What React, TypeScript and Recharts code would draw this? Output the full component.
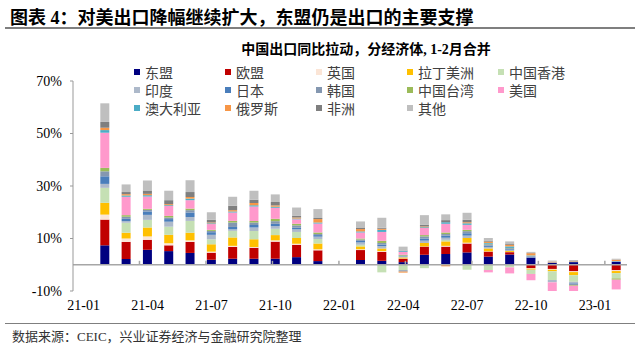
import React from "react";
import { BarChart, Bar, XAxis, YAxis, ReferenceLine, Legend } from "recharts";

const FONT = '"Liberation Serif", "Noto Sans CJK SC", serif';

// monthly slots; Jan-Feb are reported together in the Feb slot, Jan stays empty
const months = [
  "21-01", "21-02", "21-03", "21-04", "21-05", "21-06", "21-07", "21-08", "21-09",
  "21-10", "21-11", "21-12", "22-01", "22-02", "22-03", "22-04", "22-05", "22-06",
  "22-07", "22-08", "22-09", "22-10", "22-11", "22-12", "23-01", "23-02",
];

const seriesNames = [
  "东盟", "欧盟", "英国", "拉丁美洲", "中国香港",
  "印度", "日本", "韩国", "中国台湾", "美国",
  "澳大利亚", "俄罗斯", "非洲", "其他",
];

const seriesColors = [
  "#000080", "#C00000", "#FBE5D6", "#FFC000", "#C5E0B4",
  "#ADB9CA", "#4A7EBB", "#8497B0", "#9BBB59", "#FF99CC",
  "#4BACC6", "#F79646", "#7F7F7F", "#BFBFBF",
];

// contribution to export growth, percentage points
const asean = [null, 7.4, 2.2, 5.7, 5.2, 4.5, 1.9, 2.3, 2.3, 2.3, 2.9, 1.4, null, 1.8, 1.5, 1.0, 3.8, 4.1, 4.7, 3.1, 3.9, 2.7, 0.7, 1.0, null, 1.1];
const eu = [null, 9.8, 6.5, 3.8, 2.2, 4.2, 2.7, 4.5, 4.2, 6.5, 4.7, 4.1, null, 3.8, 3.4, 1.3, 3.1, 2.8, 3.4, 1.9, 0.9, -1.3, -1.6, -2.5, null, -2.1];
const uk = [null, 1.9, 1.3, 1.3, 0.8, 0.6, 0.4, 0.4, 0.3, 0.5, 0.4, 0.4, null, 0.3, 0.3, 0.1, 0.1, 0.3, 0.3, 0.1, 0.1, -0.2, -0.3, -0.3, null, -0.3];
const latam = [null, 4.5, 2.2, 3.4, 3.2, 2.9, 2.8, 3.2, 2.9, 2.0, 2.2, 2.2, null, 1.1, 1.0, 0.4, 1.3, 1.7, 1.8, 1.1, 0.4, -0.4, -0.6, -1.2, null, -0.8];
const hongKong = [null, 5.7, 3.8, 2.9, 3.1, 4.5, 1.9, 2.5, 3.2, 2.4, 2.3, 1.7, null, 0.6, -2.9, -2.1, -1.3, 0.6, -1.9, -2.0, -1.0, -1.6, -3.3, -2.5, null, -2.0];
const india = [null, 1.5, 0.6, 1.9, 1.9, 1.5, 1.7, 0.6, 1.3, 1.0, 1.0, 0.9, null, 0.9, 0.9, 0.4, 0.9, 0.8, 0.9, 0.6, 0.2, 0.1, -0.9, -0.6, null, 0];
const japan = [null, 2.9, 0.9, 1.3, 1.0, 1.7, 1.0, 0.9, 0.9, 0.9, 0.6, 0.6, null, 0.6, 0.6, 0.3, 0.8, 0.8, 0.9, 0.5, 0.4, 0.3, 0.1, -0.2, null, 0.1];
const korea = [null, 1.9, 0.8, 0.6, 0.6, 0.9, 0.5, 1.7, 1.0, 1.0, 0.9, 0.4, null, 0.5, 0.6, -0.5, 0.8, 0.6, 0.8, 0.5, 0.4, 0.3, 0.1, -0.4, null, 0.1];
const taiwan = [null, 1.3, 0.6, 0.4, 0.6, 0.6, 0.4, 0.6, 0.6, 0.9, 0.6, 0.6, null, 0.4, 0.8, 0.3, 0.5, 0.6, 0.5, 0.2, 0.1, 0.1, 0, -0.3, null, -0.5];
const usa = [null, 13.4, 7.0, 4.7, 3.8, 3.2, 2.2, 3.2, 5.5, 4.2, 1.7, 3.4, null, 2.3, 3.4, 1.1, 2.7, 3.3, 1.9, -0.9, -2.3, -2.4, -3.6, -2.3, null, -3.7];
const australia = [null, 1.0, 0.5, 0.5, 0.3, 0.6, 0.3, 0.4, 0.5, 0.4, 0.3, 0.4, null, 0.4, 0.8, 0.3, 0.3, 0.6, 0.6, 0.3, 0.6, 0.1, 0, 0.1, null, 0.1];
const russia = [null, 0.9, 0.5, 0.5, 0.4, 0.6, 0.3, 0.5, 0.8, 0.5, 0.4, 1.3, null, 0.9, 0.4, -0.4, 0.3, -0.6, 0.4, 0.5, 0.6, 0.8, 0.3, 0.2, null, 0.5];
const africa = [null, 2.2, 0.8, 1.3, 1.5, 1.9, 1.0, 1.7, 1.3, 1.3, 0.6, 0.4, null, 0.4, 0.4, 0.2, 0.6, 0.8, 0.9, 0.4, 0.3, 0.1, 0, 0.1, null, 0.1];
const others = [null, 7.1, 2.9, 3.8, 3.6, 4.5, 2.9, 3.4, 3.4, 2.9, 3.2, 3.4, null, 2.5, 3.8, 1.5, 3.7, 2.2, 2.7, 1.0, 1.0, 0.4, 0.4, 0.4, null, 0.3];

const seriesValues = [
  asean, eu, uk, latam, hongKong, india, japan, korea, taiwan, usa,
  australia, russia, africa, others,
];

const yTicks = [-10, 10, 30, 50, 70];
// small marks on the zero line, at the start of every labelled quarter
const quarterEdges = [3, 6, 9, 12, 15, 18, 21, 24];

const rows = months.map((month, i) => {
  const row: Record<string, string | number | null> = { month };
  seriesNames.forEach((name, k) => {
    row[name] = seriesValues[k][i];
  });
  return row;
});

function renderLegend() {
  return (
    <div
      style={{
        display: "grid",
        gridTemplateColumns: "repeat(5, 91px)",
        fontFamily: FONT,
        fontSize: 14,
        color: "#404040",
      }}
    >
      {seriesNames.map((name, i) => (
        <div key={name} style={{ display: "flex", alignItems: "center", height: 18, whiteSpace: "nowrap" }}>
          <span style={{ width: 6, height: 6, background: seriesColors[i], marginRight: 5, flex: "none" }} />
          <span>{name}</span>
        </div>
      ))}
    </div>
  );
}

export default function App() {
  return (
    <div style={{ position: "absolute", left: 0, top: 0, width: 640, height: 347, background: "#fff", fontFamily: FONT }}>
      <div style={{ position: "absolute", left: 10, top: 3, fontSize: 18, fontWeight: 700, color: "#000", whiteSpace: "nowrap" }}>
        图表 4：对美出口降幅继续扩大，东盟仍是出口的主要支撑
      </div>
      <div style={{ position: "absolute", left: 5, top: 27, width: 630, height: 2, background: "#7F7F7F" }} />

      <div style={{ position: "absolute", left: 166, top: 38, width: 400, textAlign: "center", fontSize: 14, fontWeight: 700, color: "#000" }}>
        中国出口同比拉动，分经济体, 1-2月合并
      </div>

      <div style={{ position: "absolute", left: 0, top: 0 }}>
        <BarChart
          width={640}
          height={347}
          data={rows}
          stackOffset="sign"
          margin={{ top: 81, right: 13, bottom: 26, left: 13 }}
        >
          <XAxis
            dataKey="month"
            interval={2}
            axisLine={false}
            tickLine={false}
            tickSize={0}
            tickMargin={9}
            tick={{ fontSize: 14, fill: "#000", fontFamily: FONT }}
          />
          <XAxis xAxisId="edge" type="number" domain={[0, months.length]} hide allowDataOverflow />
          <YAxis
            domain={[-10, 70]}
            ticks={yTicks}
            tickFormatter={(v: number) => `${v}%`}
            width={60}
            axisLine={{ stroke: "#999" }}
            tickLine={{ stroke: "#999" }}
            tickSize={3}
            tickMargin={8}
            tick={{ fontSize: 14, fill: "#000", fontFamily: FONT }}
            allowDataOverflow
          />
          <Legend
            layout="horizontal"
            verticalAlign="middle"
            align="center"
            content={renderLegend}
            wrapperStyle={{ top: 63, left: 134, width: 470 }}
          />
          {seriesNames.map((name, i) => (
            <Bar
              key={name}
              dataKey={name}
              stackId="s"
              fill={seriesColors[i]}
              barSize={9}
              isAnimationActive={false}
            />
          ))}
          <ReferenceLine y={0} stroke="#A6A6A6" strokeWidth={1.5} />
          {quarterEdges.map((e) => (
            <ReferenceLine
              key={e}
              xAxisId="edge"
              segment={[{ x: e, y: 0 }, { x: e, y: 1.5 }]}
              stroke="#A6A6A6"
              strokeWidth={1.5}
            />
          ))}
        </BarChart>
      </div>

      <div style={{ position: "absolute", left: 5, top: 323, width: 630, height: 1, background: "#7F7F7F" }} />
      <div style={{ position: "absolute", left: 12, top: 326, fontSize: 13, color: "#333", whiteSpace: "nowrap" }}>
        数据来源：CEIC，兴业证券经济与金融研究院整理
      </div>
    </div>
  );
}
